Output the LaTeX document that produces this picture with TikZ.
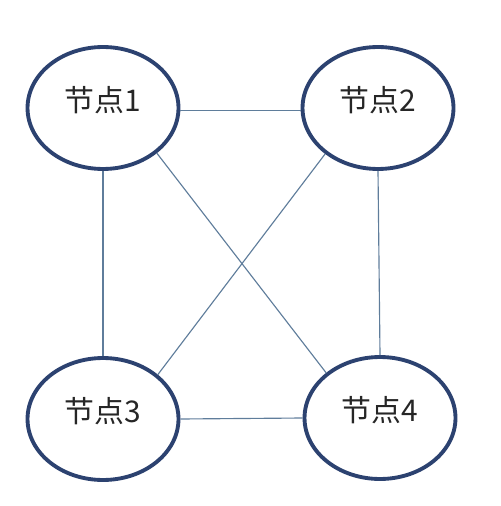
\documentclass[tikz,border=0pt]{standalone}
\usepackage{fontspec}
\newfontfamily\cjk{Noto Sans CJK SC}
\usetikzlibrary{shapes.geometric}
\definecolor{nodeedge}{RGB}{44,66,112}
\definecolor{linkblue}{RGB}{95,125,155}

\begin{document}
\begin{tikzpicture}[x=0.02cm, y=-0.02cm,
  every node/.style={font=\cjk\fontsize{17}{19}\selectfont},
  nd/.style={draw=nodeedge, ellipse, line width=2.2pt,
    minimum width=3.02cm, minimum height=2.44cm, inner sep=0pt},
  tag/.style={text=black!85, yshift=0.15cm},
  link/.style={draw=linkblue, line width=0.65pt}]
\useasboundingbox (0,0) rectangle (500,506);
\node[nd] (n1) at (103,108) {};
\node[nd] (n2) at (378,108) {};
\node[nd] (n3) at (103,419) {};
\node[nd] (n4) at (380,418) {};
\node[tag] (t1) at (n1) {节点1};
\node[tag] (t2) at (n2) {节点2};
\node[tag] (t3) at (n3) {节点3};
\node[tag] (t4) at (n4) {节点4};
\draw[link] (n1.-2) -- (n2.-178); \draw[link] (n3.east) -- (n4.west);
\draw[link] (n1.south) -- (n3.north); \draw[link] (n2.south) -- (n4.north);
\draw[link] (n1.-40) -- (n4.140); \draw[link] (n2.-139) -- (n3.39);
\end{tikzpicture}
\end{document}
